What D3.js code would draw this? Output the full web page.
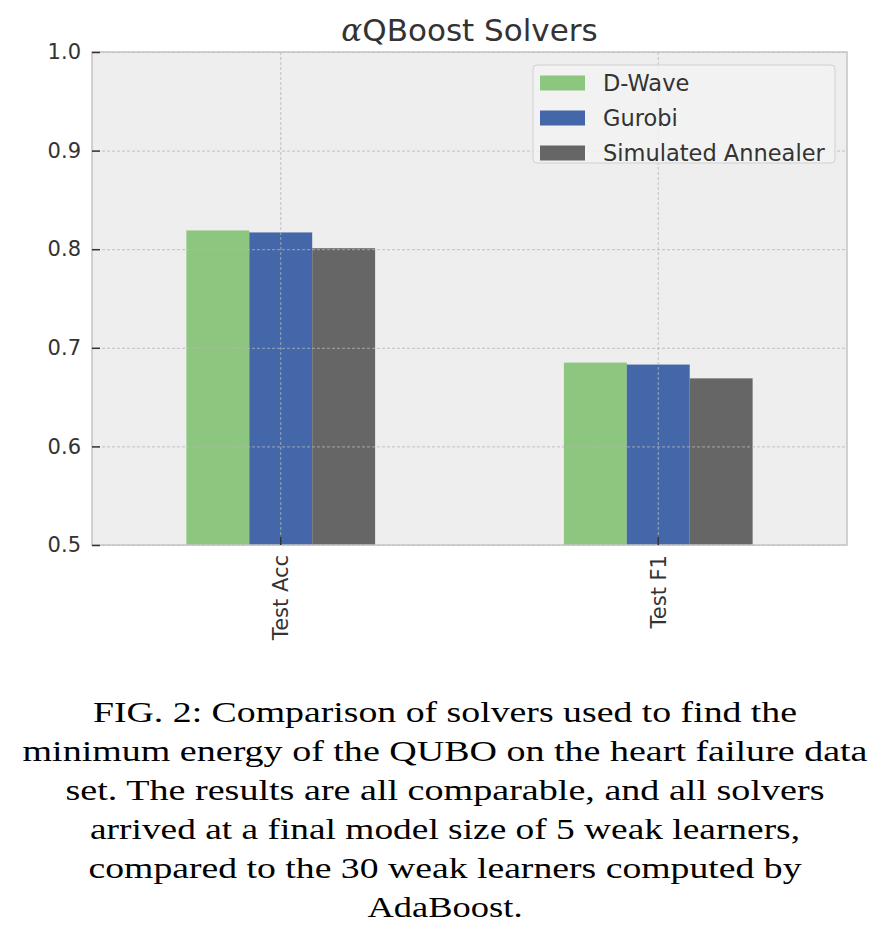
<!DOCTYPE html>
<html>
<head>
<meta charset="utf-8">
<script src="https://cdn.jsdelivr.net/npm/d3@7"></script>
<style>
    body { margin: 0; background: #ffffff; }
    svg { display: block; }
</style>
</head>
<body>
<svg id="solvers" width="882" height="946"></svg>
<script>
// values
const categories = ["Test Acc", "Test F1"];
const solvers = ["D-Wave", "Gurobi", "Simulated Annealer"];
const dwaveValues = [0.819, 0.685];
const gurobiValues = [0.817, 0.683];
const annealerValues = [0.801, 0.669];
const yTicks = [0.5, 0.6, 0.7, 0.8, 0.9, 1.0];
const solverColors = ["#8cc67f", "#4367a8", "#666666"];
const captionLines = [
    "FIG. 2: Comparison of solvers used to find the",
    "minimum energy of the QUBO on the heart failure data",
    "set. The results are all comparable, and all solvers",
    "arrived at a final model size of 5 weak learners,",
    "compared to the 30 weak learners computed by",
    "AdaBoost."
];
const captionWidths = [704, 845, 759, 710, 713, 155];

const svg = d3.select("svg#solvers");
const margin = { top: 52, right: 35, bottom: 401, left: 92 };
const chartWidth = +svg.attr("width") - margin.left - margin.right;
const chartHeight = +svg.attr("height") - margin.top - margin.bottom;

const series = [dwaveValues, gurobiValues, annealerValues];
const table = [];
categories.forEach((c, i) => {
    solvers.forEach((s, j) => table.push({ cat: c, solver: s, value: series[j][i], color: solverColors[j] }));
});

const chart = svg.append("g").attr("transform", `translate(${margin.left},${margin.top})`);

// scales
const yScale = d3.scaleLinear().domain([0.5, 1.0]).range([chartHeight, 0]);
const catScale = d3.scaleBand().domain(categories).range([0, chartWidth])
    .paddingInner(0.5).paddingOuter(0.25);
const solverScale = d3.scaleBand().domain(solvers).range([0, catScale.bandwidth()]);

// background
chart.append("rect")
    .attr("width", chartWidth).attr("height", chartHeight)
    .attr("fill", "#eeeeee");

// bars
chart.selectAll("rect.bar").data(table)
    .join("rect").attr("class", "bar")
    .attr("x", d => catScale(d.cat) + solverScale(d.solver))
    .attr("y", d => yScale(d.value))
    .attr("width", solverScale.bandwidth())
    .attr("height", d => yScale(0.5) - yScale(d.value))
    .attr("fill", d => d.color);

// gridlines on top of bars
const leftGrid = d3.axisLeft(yScale).tickValues(yTicks).tickSize(-chartWidth).tickFormat("");
chart.append("g").attr("class", "grid").call(leftGrid);
const bottomGrid = d3.axisBottom(catScale).tickSize(-chartHeight).tickFormat("");
chart.append("g").attr("class", "grid")
    .attr("transform", `translate(0,${chartHeight})`).call(bottomGrid);
chart.selectAll(".grid .domain").remove();
chart.selectAll(".grid line")
    .attr("stroke", "#b5b5b5")
    .attr("stroke-width", 1)
    .attr("stroke-dasharray", "3,2")
    .attr("opacity", 0.8);

// frame
chart.append("rect")
    .attr("width", chartWidth).attr("height", chartHeight)
    .attr("fill", "none").attr("stroke", "#c4c4c4").attr("stroke-width", 1.5);

// y axis (ticks pointing inward)
const leftAxis = d3.axisLeft(yScale).tickValues(yTicks)
    .tickSize(-8).tickPadding(11).tickFormat(d3.format(".1f"));
const yAxisG = chart.append("g").attr("class", "y axis").call(leftAxis);
yAxisG.select(".domain").remove();
yAxisG.selectAll("line").attr("stroke", "#333333").attr("stroke-width", 1.5);
yAxisG.selectAll("text")
    .attr("font-family", "DejaVu Sans").attr("font-size", 21).attr("fill", "#333333");

// x axis
const bottomAxis = d3.axisBottom(catScale).tickSize(-8).tickPadding(10);
const xAxisG = chart.append("g").attr("class", "x axis")
    .attr("transform", `translate(0,${chartHeight})`).call(bottomAxis);
xAxisG.select(".domain").remove();
xAxisG.selectAll("line").attr("stroke", "#333333").attr("stroke-width", 1.5);
xAxisG.selectAll("text")
    .attr("font-family", "DejaVu Sans").attr("font-size", 21).attr("fill", "#333333")
    .attr("transform", "rotate(-90)")
    .attr("text-anchor", "end")
    .attr("x", -10).attr("y", 0).attr("dy", "0.35em");

// title
const title = svg.append("text")
    .attr("x", margin.left + chartWidth / 2).attr("y", 41)
    .attr("text-anchor", "middle")
    .attr("font-family", "DejaVu Sans").attr("font-size", 31).attr("fill", "#333333");
title.append("tspan").attr("font-family", "DejaVu Serif").attr("font-style", "italic").text("α");
title.append("tspan").text("QBoost Solvers");

// legend
const legend = chart.append("g").attr("transform", `translate(${chartWidth - 314},13)`);
legend.append("rect")
    .attr("width", 302).attr("height", 98).attr("rx", 4)
    .attr("fill", "#f2f2f2").attr("fill-opacity", 0.85)
    .attr("stroke", "#d0d0d0");
const items = legend.selectAll("g.item").data(solvers)
    .join("g").attr("class", "item")
    .attr("transform", (d, i) => `translate(7,${18 + i * 35})`);
items.append("rect")
    .attr("width", 45).attr("height", 15).attr("y", -7.5)
    .attr("fill", (d, i) => solverColors[i]);
items.append("text")
    .attr("x", 63).attr("dy", "0.36em")
    .attr("font-family", "DejaVu Sans").attr("font-size", 22.5).attr("fill", "#333333")
    .text(d => d);

// caption
svg.append("g").selectAll("text").data(captionLines)
    .join("text")
    .attr("x", 445).attr("y", (d, i) => 722 + i * 39)
    .attr("text-anchor", "middle")
    .attr("font-family", "Liberation Serif").attr("font-size", 29).attr("fill", "#000000")
    .attr("textLength", (d, i) => captionWidths[i])
    .attr("lengthAdjust", "spacingAndGlyphs")
    .text(d => d);
</script>
</body>
</html>
